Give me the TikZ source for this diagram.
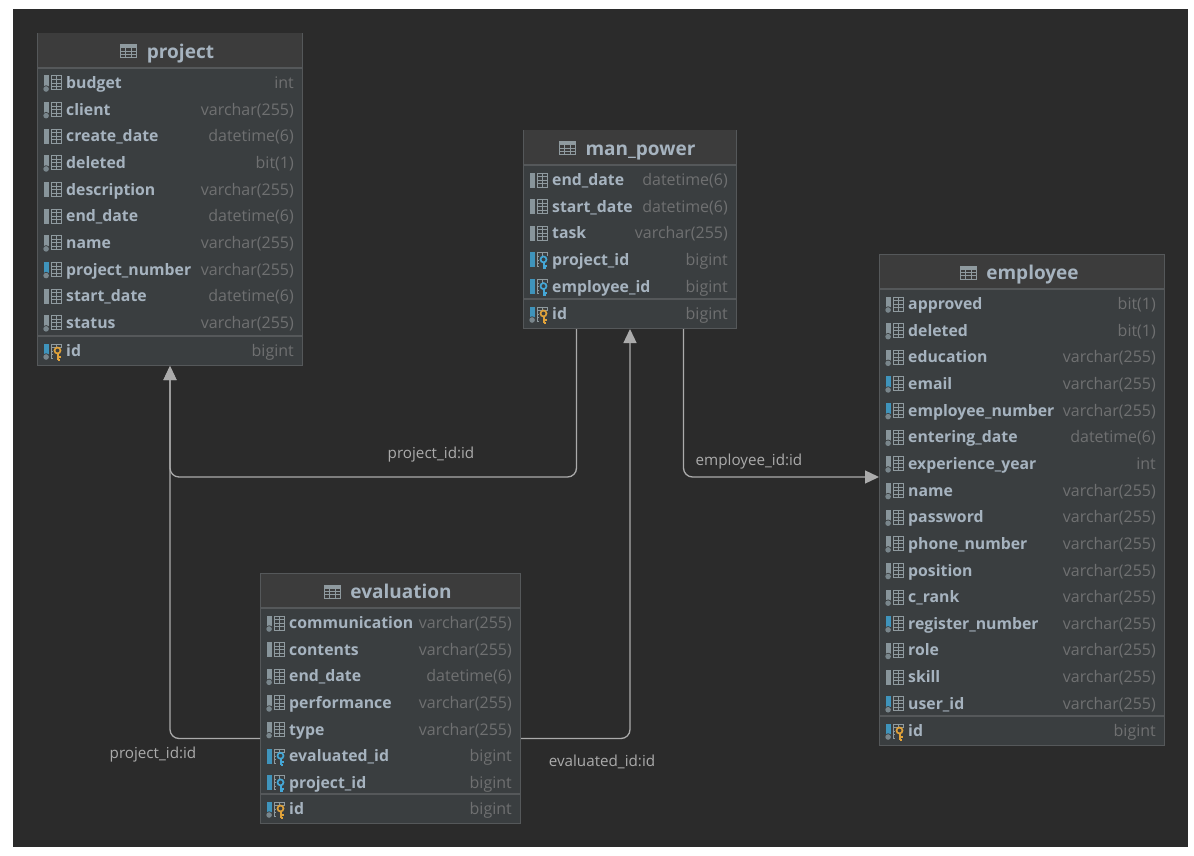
\documentclass[tikz,border=0pt]{standalone}
\usepackage{fontspec}
\setmainfont{Open Sans}
\usetikzlibrary{arrows.meta, positioning}

\definecolor{canvas}{HTML}{2B2B2B}
\definecolor{headfill}{HTML}{3C3C3C}
\definecolor{rowfill}{HTML}{3A3E40}
\definecolor{rimline}{HTML}{55585A}
\definecolor{namecol}{HTML}{A6B3BF}
\definecolor{typecol}{HTML}{6F7071}
\definecolor{barcol}{HTML}{88959B}
\definecolor{gridcol}{HTML}{8F9A9F}
\definecolor{blueicon}{HTML}{3F94BC}
\definecolor{keyblue}{HTML}{45A7D6}
\definecolor{keygold}{HTML}{E0A23A}
\definecolor{linkcol}{HTML}{ABABAB}

\tikzset{
  tablebox/.style={draw=rimline, line width=1pt, fill=rowfill, inner sep=0pt,
                   anchor=north west},
  tablehead/.style={font=\fontsize{19}{22}\selectfont\bfseries, text=namecol,
                    inner sep=0pt, anchor=base},
  colname/.style={font=\fontsize{15.8}{18}\selectfont\bfseries, text=namecol,
                  inner sep=0pt, anchor=base west},
  coltype/.style={font=\fontsize{16}{18}\selectfont, text=typecol,
                  inner sep=0pt, anchor=base east},
  fklink/.style={draw=linkcol, line width=1.3pt, rounded corners=9pt,
                 -{Triangle[length=14pt, width=13pt]}},
  fklabel/.style={font=\fontsize{15.2}{18}\selectfont, text=linkcol, inner sep=0pt},
  pics/minigrid/.style={code={
    \draw[gridcol, line width=1pt] (7.5,-7) rectangle (17.5,7);
    \foreach \gy in {-3.5,0,3.5} \draw[gridcol, line width=0.9pt] (7.5,\gy) -- (17.5,\gy);
    \draw[gridcol, line width=0.9pt] (12.5,-7) -- (12.5,7);
  }},
  pics/minidot/.style={code={
    \fill[rowfill] (2.6,6) circle (3.7);
    \fill[gridcol!120] (2.6,6) circle (2.8);
  }},
  pics/minikey/.style={code={
    \fill[rowfill] (9.5,-3.5) rectangle (19,9.5);
    \draw[#1, line width=1.7pt] (14,-0.5) circle (3);
    \draw[#1, line width=2pt] (14,2.5) -- (14,9) (14,6) -- (17,6) (14,8.5) -- (16.5,8.5);
  }},
  pics/iconc/.style={code={
    \fill[barcol] (0,-7.5) rectangle (5.5,7.5);
    \pic {minigrid};
  }},
  pics/iconn/.style={code={
    \fill[barcol] (0,-7.5) rectangle (5.5,5);
    \pic {minigrid};
    \pic {minidot};
  }},
  pics/iconu/.style={code={
    \fill[blueicon] (0,-7.5) rectangle (5.5,5);
    \pic {minigrid};
    \pic {minidot};
  }},
  pics/iconf/.style={code={
    \fill[blueicon] (0,-7.5) rectangle (5.5,7.5);
    \pic {minigrid};
    \pic {minikey=keyblue};
  }},
  pics/iconp/.style={code={
    \fill[blueicon] (0,-7.5) rectangle (5.5,5);
    \pic {minigrid};
    \pic {minidot};
    \pic {minikey=keygold};
  }},
  pics/headicon/.style={code={
    \draw[gridcol, line width=1pt] (-8,-6.5) rectangle (8,6.5);
    \fill[gridcol] (-8,-6.5) rectangle (8,-3);
    \foreach \gy in {0,3.2} \draw[gridcol, line width=0.9pt] (-8,\gy) -- (8,\gy);
    \foreach \gx in {-3,3} \draw[gridcol, line width=0.9pt] (\gx,-6.5) -- (\gx,6.5);
  }}
}

% #1 node name, #2 title, #3 left, #4 top, #5 right, #6 bottom, #7 rows
\newcommand{\dbtable}[7]{
  \pgfmathsetmacro{\boxw}{#5-#3}
  \pgfmathsetmacro{\boxh}{#6-#4}
  \pgfmathsetmacro{\midx}{(#3+#5)/2}
  \node[tablebox, minimum width=\boxw pt, minimum height=\boxh pt] (#1) at (#3,#4) {};
  \fill[headfill] (#3+0.5,#4+0.5) rectangle (#5-0.5,#4+35);
  \draw[rimline, line width=2pt] (#3,#4+35) -- (#5,#4+35);
  \draw[rimline, line width=1.6pt] (#3,#6-29) -- (#5,#6-29);
  \node[tablehead] (#1-title) at (\midx+11,#4+25.5) {#2};
  \pic at ([xshift=-18pt, yshift=7pt]#1-title.base west) {headicon};
  \foreach \kind/\cname/\ctype [count=\i] in {#7} {
    \pgfmathsetmacro{\rowy}{#4+50+26.65*(\i-1)}
    \pic at (#3+6.5,\rowy) {icon\kind};
    \node[colname] (#1-name-\i) at (#3+29,\rowy+5.5) {\cname};
    \node[coltype] (#1-type-\i) at (#5-8,\rowy+5.5) {\ctype};
  }
  \pic at (#3+6.5,#6-14) {iconp};
  \node[colname] (#1-name-id) at (#3+29,#6-8.5) {id};
  \node[coltype] (#1-type-id) at (#5-8,#6-8.5) {bigint};
}

\begin{document}
\begin{tikzpicture}[x=1pt, y=-1pt]
  \useasboundingbox (0,0) rectangle (1194,856);
  \fill[canvas] (13,9) rectangle (1188,847);

  \dbtable{project}{project}{37}{33}{302}{365}{
    n/budget/int, n/client/varchar(255), c/create\_date/datetime(6),
    n/deleted/bit(1), c/description/varchar(255), c/end\_date/datetime(6),
    n/name/varchar(255), u/project\_number/varchar(255),
    c/start\_date/datetime(6), n/status/varchar(255)}

  \dbtable{manpower}{man\_power}{523}{130}{736}{328}{
    c/end\_date/datetime(6), c/start\_date/datetime(6), c/task/varchar(255),
    f/project\_id/bigint, f/employee\_id/bigint}

  \dbtable{employee}{employee}{879}{254}{1164}{745}{
    n/approved/bit(1), n/deleted/bit(1), n/education/varchar(255),
    u/email/varchar(255), u/employee\_number/varchar(255),
    n/entering\_date/datetime(6), n/experience\_year/int, n/name/varchar(255),
    n/password/varchar(255), n/phone\_number/varchar(255),
    n/position/varchar(255), n/c\_rank/varchar(255),
    u/register\_number/varchar(255), n/role/varchar(255), c/skill/varchar(255),
    u/user\_id/varchar(255)}

  \dbtable{evaluation}{evaluation}{260}{573}{520}{823}{
    n/communication/varchar(255), c/contents/varchar(255),
    n/end\_date/datetime(6), n/performance/varchar(255), n/type/varchar(255),
    f/evaluated\_id/bigint, f/project\_id/bigint}

  \coordinate (busleft) at (170,477);
  \coordinate (busright) at (879,477);

  % foreign keys
  \draw[fklink] ([xshift=-53.5pt]manpower.south) |- (busleft) -- (project.south);
  \draw[fklink] ([xshift=53.5pt]manpower.south) |- (busright);
  \draw[fklink] ([yshift=-40pt]evaluation.west) -| (project.south);
  \draw[fklink] ([yshift=-40pt]evaluation.east) -| (manpower.south);

  \node[fklabel] (lblmanproject) at (431,455) {project\_id:id};
  \node[fklabel] (lblmanemployee) at (749,462) {employee\_id:id};
  \node[fklabel] (lblevalproject) at (153,755) {project\_id:id};
  \node[fklabel] (lblevalman) at (602,762) {evaluated\_id:id};
\end{tikzpicture}
\end{document}
